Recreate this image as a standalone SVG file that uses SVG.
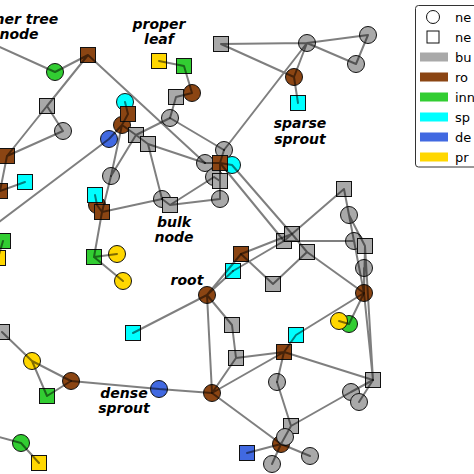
<svg xmlns="http://www.w3.org/2000/svg" width="474" height="474" viewBox="0 0 474 474">
<style>
.e{stroke:#000;stroke-opacity:0.5;stroke-width:2;fill:none;stroke-linecap:round}
.n{stroke:#111;stroke-width:1}
.gy{fill:#a9a9a9}.br{fill:#8b4513}.gr{fill:#32cd32}.cy{fill:#00ffff}.bl{fill:#4169e1}.go{fill:#ffd700}
.lb{font-family:"DejaVu Sans",sans-serif;font-weight:bold;font-style:italic;font-size:14px;fill:#000;text-anchor:middle}
.lg{font-family:"DejaVu Sans",sans-serif;font-size:13px;fill:#000}
</style>
<rect width="474" height="474" fill="#fff"/>
<g id="nodes">
<g id="n1"><circle class="n gr" cx="55" cy="72" r="8.5"/></g>
<g id="n2"><rect class="n br" x="80.5" y="47.5" width="15" height="15"/></g>
<g id="n3"><rect class="n gy" x="39.5" y="98.5" width="15" height="15"/></g>
<g id="n4"><circle class="n gy" cx="63" cy="131" r="8.5"/></g>
<g id="n5"><rect class="n br" x="-0.5" y="148.5" width="15" height="15"/></g>
<g id="n6"><rect class="n cy" x="17.5" y="174.5" width="15" height="15"/></g>
<g id="n7"><rect class="n br" x="-7.5" y="183.5" width="15" height="15"/></g>
<g id="n8"><rect class="n gr" x="-4.5" y="233.5" width="15" height="15"/></g>
<g id="n9"><rect class="n go" x="-9.5" y="250.5" width="15" height="15"/></g>
<g id="n10"><circle class="n cy" cx="125" cy="102" r="8.5"/></g>
<g id="n11"><circle class="n br" cx="122" cy="125" r="8.5"/></g>
<g id="n12"><rect class="n br" x="120.5" y="106.5" width="15" height="15"/></g>
<g id="n13"><circle class="n bl" cx="109" cy="139" r="8.5"/></g>
<g id="n14"><rect class="n gy" x="128.5" y="127.5" width="15" height="15"/></g>
<g id="n15"><rect class="n gy" x="140.5" y="136.5" width="15" height="15"/></g>
<g id="n16"><circle class="n gy" cx="170" cy="118" r="8.5"/></g>
<g id="n17"><rect class="n gy" x="168.5" y="89.5" width="15" height="15"/></g>
<g id="n18"><circle class="n br" cx="192" cy="93" r="8.5"/></g>
<g id="n19"><rect class="n gr" x="176.5" y="58.5" width="15" height="15"/></g>
<g id="n20"><rect class="n go" x="151.5" y="53.5" width="15" height="15"/></g>
<g id="n21"><rect class="n gy" x="213.5" y="36.5" width="15" height="15"/></g>
<g id="n22"><circle class="n gy" cx="307" cy="43" r="8.5"/></g>
<g id="n23"><circle class="n br" cx="294" cy="77" r="8.5"/></g>
<g id="n24"><rect class="n cy" x="290.5" y="95.5" width="15" height="15"/></g>
<g id="n25"><circle class="n gy" cx="368" cy="35" r="8.5"/></g>
<g id="n26"><circle class="n gy" cx="356" cy="64" r="8.5"/></g>
<g id="n27"><circle class="n gy" cx="224" cy="150" r="8.5"/></g>
<g id="n28"><circle class="n gy" cx="205" cy="163" r="8.5"/></g>
<g id="n29"><circle class="n gy" cx="214" cy="177" r="8.5"/></g>
<g id="n31"><circle class="n cy" cx="232" cy="165" r="8.5"/></g>
<g id="n30"><rect class="n gy" x="212.5" y="173.5" width="15" height="15"/></g>
<g id="n32"><rect class="n br" x="212.5" y="155.5" width="15" height="15"/></g>
<g id="n33"><circle class="n gy" cx="220" cy="199" r="8.5"/></g>
<g id="n34"><circle class="n gy" cx="162" cy="199" r="8.5"/></g>
<g id="n35"><rect class="n gy" x="162.5" y="197.5" width="15" height="15"/></g>
<g id="n36"><circle class="n gy" cx="111" cy="176" r="8.5"/></g>
<g id="n38"><circle class="n br" cx="97" cy="205" r="8.5"/></g>
<g id="n37"><rect class="n cy" x="87.5" y="187.5" width="15" height="15"/></g>
<g id="n39"><rect class="n br" x="94.5" y="204.5" width="15" height="15"/></g>
<g id="n40"><rect class="n gr" x="86.5" y="249.5" width="15" height="15"/></g>
<g id="n41"><circle class="n go" cx="117" cy="254" r="8.5"/></g>
<g id="n42"><circle class="n go" cx="123" cy="281" r="8.5"/></g>
<g id="n43"><rect class="n gy" x="336.5" y="181.5" width="15" height="15"/></g>
<g id="n44"><circle class="n gy" cx="349" cy="215" r="8.5"/></g>
<g id="n45"><circle class="n gy" cx="354" cy="241" r="8.5"/></g>
<g id="n46"><rect class="n gy" x="357.5" y="238.5" width="15" height="15"/></g>
<g id="n47"><circle class="n gy" cx="364" cy="268" r="8.5"/></g>
<g id="n48"><circle class="n br" cx="364" cy="293" r="8.5"/></g>
<g id="n50"><rect class="n gy" x="276.5" y="233.5" width="15" height="15"/></g>
<g id="n49"><rect class="n gy" x="284.5" y="226.5" width="15" height="15"/></g>
<g id="n51"><rect class="n gy" x="299.5" y="244.5" width="15" height="15"/></g>
<g id="n52"><rect class="n br" x="233.5" y="246.5" width="15" height="15"/></g>
<g id="n53"><rect class="n cy" x="225.5" y="263.5" width="15" height="15"/></g>
<g id="n54"><rect class="n gy" x="265.5" y="276.5" width="15" height="15"/></g>
<g id="n55"><circle class="n br" cx="207" cy="295" r="8.5"/></g>
<g id="n57"><circle class="n gr" cx="349" cy="324" r="8.5"/></g>
<g id="n56"><circle class="n go" cx="339" cy="321" r="8.5"/></g>
<g id="n58"><rect class="n cy" x="288.5" y="327.5" width="15" height="15"/></g>
<g id="n59"><rect class="n cy" x="125.5" y="325.5" width="15" height="15"/></g>
<g id="n60"><rect class="n gy" x="224.5" y="317.5" width="15" height="15"/></g>
<g id="n61"><rect class="n gy" x="228.5" y="350.5" width="15" height="15"/></g>
<g id="n62"><rect class="n br" x="276.5" y="344.5" width="15" height="15"/></g>
<g id="n63"><circle class="n gy" cx="277" cy="382" r="8.5"/></g>
<g id="n64"><circle class="n br" cx="212" cy="393" r="8.5"/></g>
<g id="n65"><circle class="n bl" cx="159" cy="389" r="8.5"/></g>
<g id="n66"><rect class="n gy" x="365.5" y="372.5" width="15" height="15"/></g>
<g id="n67"><circle class="n gy" cx="351" cy="392" r="8.5"/></g>
<g id="n68"><circle class="n gy" cx="359" cy="402" r="8.5"/></g>
<g id="n69"><rect class="n gy" x="283.5" y="418.5" width="15" height="15"/></g>
<g id="n70"><circle class="n br" cx="281" cy="444" r="8.5"/></g>
<g id="n71"><circle class="n gy" cx="285" cy="437" r="8.5"/></g>
<g id="n72"><rect class="n bl" x="239.5" y="445.5" width="15" height="15"/></g>
<g id="n73"><circle class="n gy" cx="272" cy="464" r="8.5"/></g>
<g id="n74"><circle class="n gy" cx="310" cy="456" r="8.5"/></g>
<g id="n75"><rect class="n gy" x="-5.5" y="324.5" width="15" height="15"/></g>
<g id="n76"><circle class="n go" cx="32" cy="361" r="8.5"/></g>
<g id="n77"><rect class="n gr" x="39.5" y="388.5" width="15" height="15"/></g>
<g id="n78"><circle class="n br" cx="71" cy="381" r="8.5"/></g>
<g id="n79"><circle class="n gr" cx="21" cy="443" r="8.5"/></g>
<g id="n80"><rect class="n go" x="31.5" y="455.5" width="15" height="15"/></g>
</g>
<g id="edges" class="e">
<path d="M-20 38L55 72M55 72L88 55M88 55L47 106M88 55L205 163M47 106L63 131M47 106L7 156M63 131L7 156M7 156L0 191M25 182L0 191M3 241L-2 258"/>
<path d="M109 139L-25 240M125 102L128 114M128 114L122 125M122 125L109 139M122 125L136 135M136 135L148 144M122 125L111 176M136 135L111 176M136 135L170 118M148 144L162 199M148 144L205 163"/>
<path d="M170 118L176 97M176 97L192 93M192 93L184 66M184 66L159 61M170 118L224 150"/>
<path d="M221 44L307 43M221 44L294 77M294 77L307 43M294 77L298 103M307 43L368 35M307 43L356 64M368 35L356 64M307 43L224 150"/>
<path d="M224 150L220 163M205 163L220 163M220 163L232 165M220 163L220 181M214 177L220 181M220 181L220 199M220 199L170 205M170 205L214 177M162 199L170 205M220 163L284 241M232 165L292 234"/>
<path d="M111 176L102 212M95 195L97 205M97 205L102 212M102 212L162 199M102 212L94 257M94 257L117 254M94 257L123 281"/>
<path d="M344 189L292 234M344 189L364 293M349 215L365 246M354 241L284 241M365 246L364 293M364 268L364 293M365 246L373 380M364 293L373 380M307 252L364 293M292 234L284 241M292 234L307 252M241 254L292 234M233 271L284 241M241 254L273 284M273 284L307 252"/>
<path d="M207 295L233 271M207 295L241 254M207 295L133 333M207 295L232 325M207 295L212 393M364 293L349 324M339 321L349 324M364 293L296 335M296 335L284 352M284 352L236 358M284 352L212 393M284 352L277 382M284 352L373 380M236 358L232 325M236 358L212 393"/>
<path d="M277 382L291 426M291 426L281 444M212 393L281 444M281 444L247 453M281 444L272 464M281 444L310 456M291 426L351 392M351 392L373 380M359 402L373 380M212 393L159 389M159 389L71 381"/>
<path d="M2 332L32 361M32 361L71 381M32 361L47 396M47 396L71 381M-15 433L21 443M21 443L39 463"/>
</g>
<g id="labels">
<text class="lb" x="19" y="24">inner tree</text>
<text class="lb" x="19" y="39">node</text>
<text class="lb" x="159" y="29">proper</text>
<text class="lb" x="159" y="44">leaf</text>
<text class="lb" x="300" y="128">sparse</text>
<text class="lb" x="300" y="144">sprout</text>
<text class="lb" x="174" y="227">bulk</text>
<text class="lb" x="174" y="242">node</text>
<text class="lb" x="187" y="285">root</text>
<text class="lb" x="124" y="398">dense</text>
<text class="lb" x="124" y="413">sprout</text>
</g>
<g id="legend">
<rect x="415.5" y="5.5" width="80" height="161.5" rx="3" fill="#fff" stroke="#333" stroke-width="1"/>
<circle cx="433" cy="17" r="6.5" fill="none" stroke="#111"/>
<rect x="427" y="31" width="12" height="12" fill="none" stroke="#111"/>
<rect x="420" y="52.5" width="28" height="9" class="gy"/>
<rect x="420" y="72.5" width="28" height="9" class="br"/>
<rect x="420" y="92.5" width="28" height="9" class="gr"/>
<rect x="420" y="112.5" width="28" height="9" class="cy"/>
<rect x="420" y="132.5" width="28" height="9" class="bl"/>
<rect x="420" y="152.5" width="28" height="9" class="go"/>
<text class="lg" x="455" y="22">ne</text>
<text class="lg" x="455" y="42">ne</text>
<text class="lg" x="455" y="62">bu</text>
<text class="lg" x="455" y="82">ro</text>
<text class="lg" x="455" y="102">inn</text>
<text class="lg" x="455" y="122">sp</text>
<text class="lg" x="455" y="142">de</text>
<text class="lg" x="455" y="162">pr</text>
</g>
</svg>
